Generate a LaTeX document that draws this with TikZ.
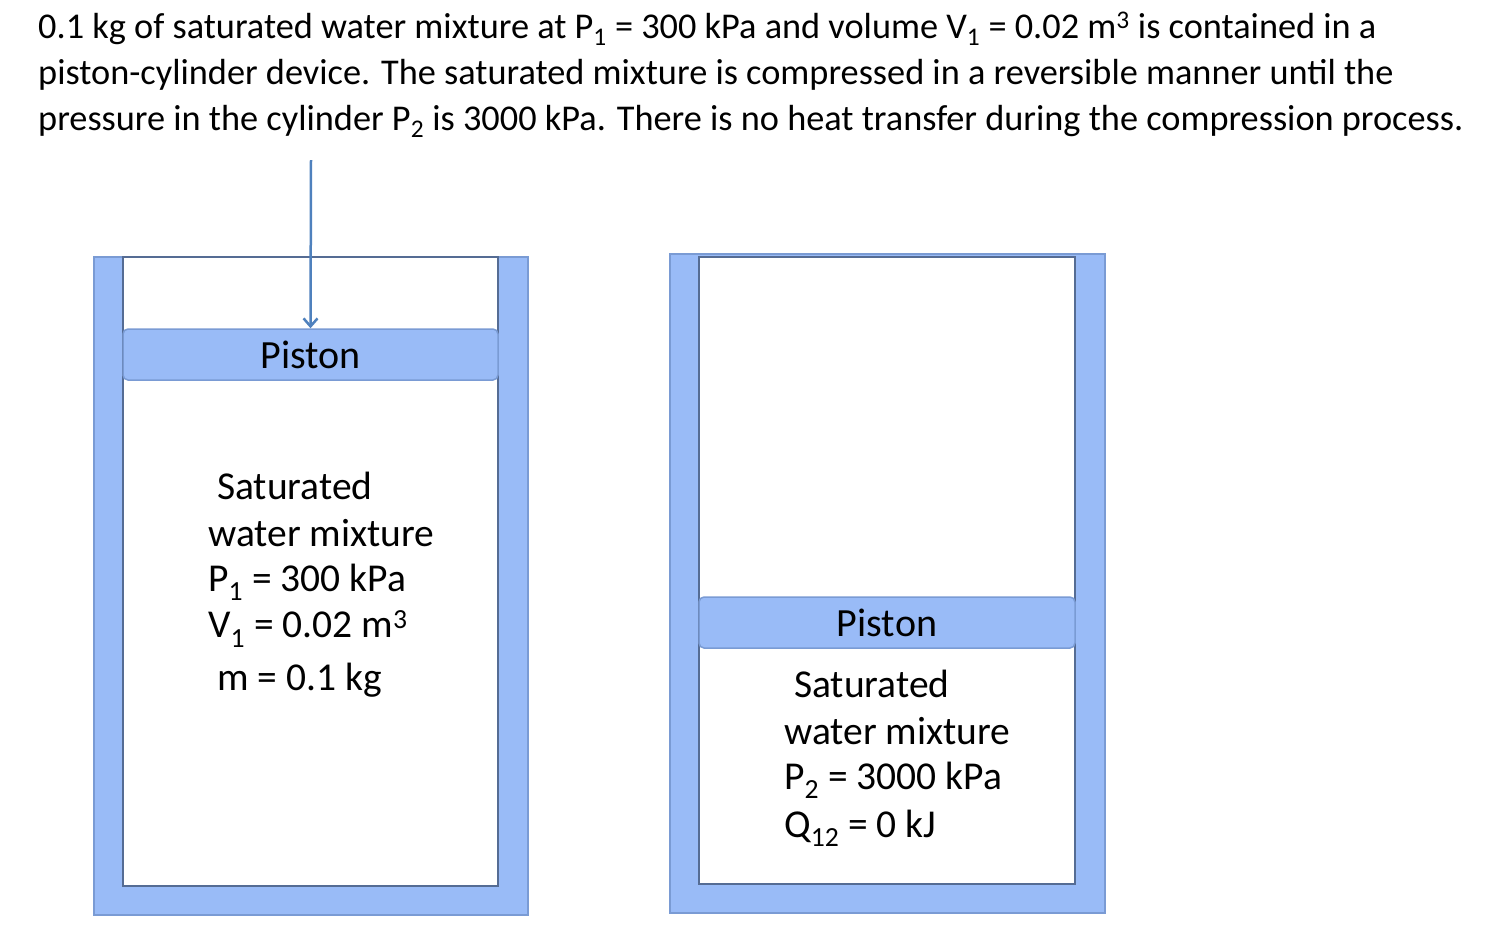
\documentclass[tikz,border=0pt]{standalone}
\usepackage{fontspec}
\usetikzlibrary{arrows.meta}
\setmainfont{Carlito}
\begin{document}
\begin{tikzpicture}[x=1pt,y=-1pt,
  wall/.style={fill=cylblue,draw=cyledge,line width=2pt},
  inner/.style={fill=white,draw=cyledge!70!black,line width=1.2pt},
  pist/.style={fill=cylblue,draw=cyledge,line width=1.5pt,rounded corners=5pt},
  lbl/.style={anchor=west,font=\fontsize{39.5}{40}\selectfont,inner sep=0pt},
  ttl/.style={anchor=base west,font=\fontsize{36.3}{36}\selectfont,inner sep=0pt}]
\definecolor{cylblue}{HTML}{99BBF7}
\definecolor{cyledge}{HTML}{7A9BD4}
\definecolor{arrowc}{HTML}{4F81BD}
\useasboundingbox (0,0) rectangle (1510,943);
% title
\node[ttl] (t1) at (38,38) {0.1 kg of saturated water mixture at P\textsubscript{1} = 300 kPa and volume V\textsubscript{1} = 0.02 m\textsuperscript{3} is contained in a};
\node[ttl] (t2) at (38,84) {piston-cylinder device. The saturated mixture is compressed in a reversible manner until the};
\node[ttl] (t3) at (38,130) {pressure in the cylinder P\textsubscript{2} is 3000 kPa. There is no heat transfer during the compression process.};
% left cylinder
\draw[wall] (94,257) rectangle (528,915);
\draw[inner] (123,257) rectangle (498,886);
\node[pist,minimum width=375,minimum height=51,inner sep=0pt,font=\fontsize{40}{40}\selectfont] (p1) at (310.5,354.5) {Piston};
\coordinate (a0) at (311,160);
\draw[arrowc,line width=2.5pt,-{Straight Barb[length=8pt,width=14pt]}] (a0) -- (p1.north);
\node[lbl] (l1) at (217,486) {Saturated};
\node[lbl] (l2) at (208,533) {water mixture};
\node[lbl] (l3) at (208,582) {P\textsubscript{1} = 300 kPa};
\node[lbl] (l4) at (208,629) {V\textsubscript{1} = 0.02 m\textsuperscript{3}};
\node[lbl] (l5) at (217,680) {m = 0.1 kg};
% right cylinder
\draw[wall] (670,254) rectangle (1105,913);
\draw[inner] (699,257) rectangle (1075,884);
\node[pist,minimum width=376,minimum height=51,inner sep=0pt,font=\fontsize{40}{40}\selectfont] (p2) at (887,622.5) {Piston};
\node[lbl] (r1) at (794,684) {Saturated};
\node[lbl] (r2) at (784,731) {water mixture};
\node[lbl] (r3) at (784,780) {P\textsubscript{2} = 3000 kPa};
\node[lbl] (r4) at (784,828) {Q\textsubscript{12} = 0 kJ};
\end{tikzpicture}
\end{document}
